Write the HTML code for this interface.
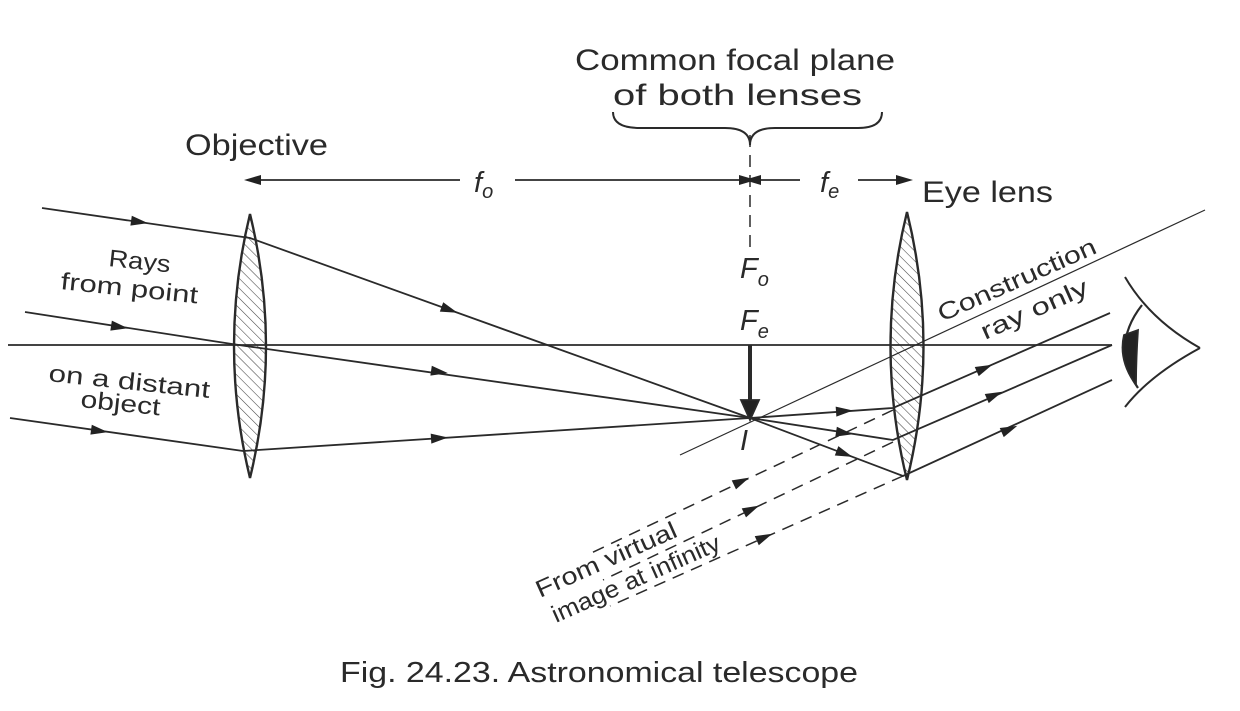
<!DOCTYPE html>
<html><head><meta charset="utf-8"><style>
html,body{margin:0;padding:0;background:#fff}
svg{display:block}
text{font-family:"Liberation Sans","DejaVu Sans",sans-serif;fill:#2a2a2a}
</style></head><body>
<svg width="1240" height="711" viewBox="0 0 1240 711" xmlns="http://www.w3.org/2000/svg">
<defs>
<pattern id="h" width="7" height="7" patternUnits="userSpaceOnUse" patternTransform="rotate(-45)">
<line x1="0" y1="0" x2="0" y2="7" stroke="#444" stroke-width="1.1"/></pattern>
<path id="t" d="M-9,-5 L8,0 L-9,5 Z" fill="#222"/>
</defs>
<g stroke="#2a2a2a" fill="none" stroke-width="1.8">
<path d="M250,214 Q282,346 250,478 Q218,346 250,214 Z" fill="url(#h)" stroke-width="2.4"/>
<path d="M907,212 Q940,346 907,480 Q874,346 907,212 Z" fill="url(#h)" stroke-width="2.4"/>
<line x1="8" y1="345" x2="1112" y2="345"/>
<path d="M42,208 L250,238 L750,418"/>
<path d="M25,312 L232,344 L750,418"/>
<path d="M10,418 L243,451 L750,418"/>
<path d="M750,418 L893,408 L1110,313"/>
<path d="M750,418 L893,440 L1112,345"/>
<path d="M750,418 L903,476 L1112,380"/>
<g stroke-dasharray="12,8" stroke-width="1.5">
<line x1="893" y1="410" x2="587" y2="555"/>
<line x1="893" y1="442" x2="603" y2="580"/>
<line x1="903" y1="476" x2="610" y2="606"/>
<line x1="750" y1="135" x2="750" y2="255"/>
</g>
<line x1="680" y1="455" x2="1205" y2="210" stroke-width="1.2"/>
<line x1="750" y1="345" x2="750" y2="408" stroke-width="4"/>
<path d="M741,400 L759,400 L750,420 Z" fill="#222"/>
<line x1="460" y1="180" x2="258" y2="180"/>
<line x1="515" y1="180" x2="742" y2="180"/>
<line x1="800" y1="180" x2="758" y2="180"/>
<line x1="858" y1="180" x2="899" y2="180"/>
<path d="M613,112 Q613,128 640,128 L725,128 Q750,128 750,145 Q750,128 775,128 L858,128 Q882,128 882,112" stroke-width="2"/>
<path d="M1125,277 Q1150,320 1200,348" stroke-width="2"/>
<path d="M1125,407 Q1150,375 1200,348" stroke-width="2"/>
<path d="M1142,305 Q1110,346 1138,388" stroke-width="2.2"/>
<path d="M1138,330 Q1136,360 1136,385 Q1118,360 1124,335 Z" fill="#222"/>
</g>
<g>
<use href="#t" transform="translate(252,180) rotate(180)"/>
<use href="#t" transform="translate(748,180)"/>
<use href="#t" transform="translate(752,180) rotate(180)"/>
<use href="#t" transform="translate(905,180)"/>
<use href="#t" transform="translate(140,222) rotate(8.2)"/>
<use href="#t" transform="translate(120,327) rotate(8.8)"/>
<use href="#t" transform="translate(100,431) rotate(8.1)"/>
<use href="#t" transform="translate(450,310) rotate(19.8)"/>
<use href="#t" transform="translate(440,372) rotate(8.2)"/>
<use href="#t" transform="translate(440,438) rotate(-3.7)"/>
<use href="#t" transform="translate(845,411) rotate(-4)"/>
<use href="#t" transform="translate(845,433) rotate(8.7)"/>
<use href="#t" transform="translate(845,454) rotate(20.8)"/>
<use href="#t" transform="translate(985,368) rotate(-23.6)"/>
<use href="#t" transform="translate(995,395) rotate(-23.6)"/>
<use href="#t" transform="translate(1010,429) rotate(-23.6)"/>
<use href="#t" transform="translate(742,481) rotate(-25.4)"/>
<use href="#t" transform="translate(752,509) rotate(-25.4)"/>
<use href="#t" transform="translate(765,537) rotate(-24)"/>
</g>
<text x="575" y="70" font-size="30" textLength="320" lengthAdjust="spacingAndGlyphs">Common focal plane</text>
<text x="613" y="105" font-size="30" textLength="249" lengthAdjust="spacingAndGlyphs">of both lenses</text>
<text x="185" y="155" font-size="30" textLength="143" lengthAdjust="spacingAndGlyphs">Objective</text>
<text x="474" y="192" font-size="29" font-style="italic">f<tspan font-size="20" dy="6">o</tspan></text>
<text x="820" y="192" font-size="29" font-style="italic">f<tspan font-size="20" dy="6">e</tspan></text>
<text x="922" y="202" font-size="30" textLength="131" lengthAdjust="spacingAndGlyphs">Eye lens</text>
<text x="740" y="278" font-size="29" font-style="italic">F<tspan font-size="20" dy="8">o</tspan></text>
<text x="740" y="330" font-size="29" font-style="italic">F<tspan font-size="20" dy="8">e</tspan></text>
<text x="740" y="450" font-size="29" font-style="italic">I</text>
<g font-size="24">
<text transform="translate(108,266) rotate(6)" textLength="62" lengthAdjust="spacingAndGlyphs">Rays</text>
<text transform="translate(60,289) rotate(6)" textLength="138" lengthAdjust="spacingAndGlyphs">from point</text>
<text transform="translate(48,381) rotate(6)" textLength="162" lengthAdjust="spacingAndGlyphs">on a distant</text>
<text transform="translate(80,407) rotate(6)" textLength="80" lengthAdjust="spacingAndGlyphs">object</text>
<text transform="translate(942,322) rotate(-24)" textLength="171" lengthAdjust="spacingAndGlyphs">Construction</text>
<text transform="translate(985,340) rotate(-24)" textLength="115" lengthAdjust="spacingAndGlyphs">ray only</text>
<text transform="translate(540,598) rotate(-24)" textLength="152" lengthAdjust="spacingAndGlyphs">From virtual</text>
<text transform="translate(556,623) rotate(-24)" textLength="182" lengthAdjust="spacingAndGlyphs">image at infinity</text>
</g>
<text x="340" y="682" font-size="29" textLength="518" lengthAdjust="spacingAndGlyphs" fill="#333">Fig. 24.23. Astronomical telescope</text>
</svg>
</body></html>
